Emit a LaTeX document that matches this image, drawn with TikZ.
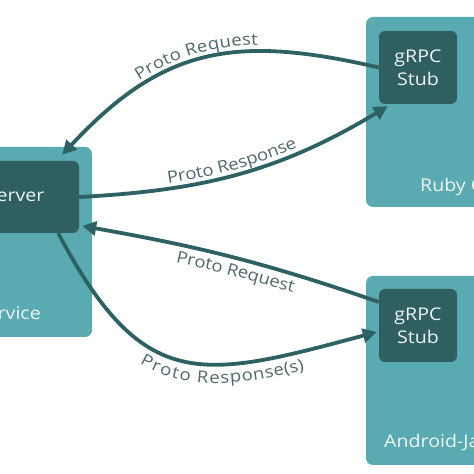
\documentclass[tikz,border=0pt]{standalone}
\usepackage{fontspec}
\setmainfont{Open Sans}[FakeStretch=1.12]
\usetikzlibrary{arrows.meta,decorations.text}
\definecolor{outerteal}{HTML}{5AABB1}
\definecolor{innerteal}{HTML}{2F5F60}
\definecolor{arrowteal}{HTML}{2D6163}
\definecolor{lblgray}{HTML}{4F696B}
\definecolor{boxtext}{HTML}{EEF6F6}
\tikzset{
  outerbox/.style={rectangle, rounded corners=7pt, fill=outerteal, draw=none, inner sep=0pt},
  innerbox/.style={rectangle, rounded corners=6pt, fill=innerteal, draw=none, inner sep=0pt,
    text=boxtext, align=center, font=\fontsize{17.5}{23}\selectfont},
  boxlabel/.style={inner sep=0pt, text=boxtext, font=\fontsize{17.5}{21}\selectfont},
  conn/.style={draw=arrowteal, line width=3.8pt},
  tipa/.style={arrows={-{Triangle[length=14pt,width=14pt]}}},
  tipb/.style={arrows={{Triangle[length=14pt,width=14pt]}-}},
}
\newcommand{\lblfmt}{\color{lblgray}\fontsize{16.5}{16.5}\selectfont}
\begin{document}
\begin{tikzpicture}[x=1pt,y=1pt]
\useasboundingbox (0,0) rectangle (474,474);
\clip (0,0) rectangle (474,474);
\fill[white] (0,0) rectangle (474,474);
% boxes
\node[outerbox, minimum width=202pt, minimum height=190pt] (service) at (-9,232) {};
\node[innerbox, minimum width=180pt, minimum height=72pt] (server) at (-11,277) {gRPC Server};
\node[outerbox, minimum width=200pt, minimum height=190pt] (ruby) at (466,362) {};
\node[innerbox, minimum width=78pt, minimum height=73pt] (rubystub) at (418,406.5) {gRPC\\Stub};
\node[outerbox, minimum width=200pt, minimum height=189pt] (android) at (466,103.5) {};
\node[innerbox, minimum width=78pt, minimum height=73pt] (androidstub) at (418,148.5) {gRPC\\Stub};
\node[boxlabel, anchor=base east] (servicelbl) at (41,154) {C++ Service};
\node[boxlabel, anchor=base west] (rubylbl) at (420,282) {Ruby Client};
\node[boxlabel, anchor=base west] (androidlbl) at (384,27) {Android-Java Client};
% connectors
\draw[conn, tipb, postaction={decorate, decoration={text along path,
    text={|\lblfmt|Proto Request}, raise=6pt, text align={left indent=106pt}}}]
  ([xshift=-17pt,yshift=6pt]server.north east) to[out=47, in=167, looseness=1.15] (rubystub.west);
\draw[conn, tipa, postaction={decorate, decoration={text along path,
    text={|\lblfmt|Proto Response}, raise=5pt, text align={left indent=90pt}}}]
  (server.east) to[out=3, in=211] ([xshift=9pt,yshift=-2pt]rubystub.south west);
\draw[conn, tipb, postaction={decorate, decoration={text along path,
    text={|\lblfmt|Proto Request}, raise=-18pt, text align={left indent=99pt}}}]
  ([xshift=3pt,yshift=-29pt]server.east) to[out=-10, in=161] ([yshift=23.5pt]androidstub.west);
\draw[conn, tipa, postaction={decorate, decoration={text along path,
    text={|\lblfmt|Proto Response(s)}, raise=-19pt, text align={left indent=147pt}}}]
  ([xshift=-21pt]server.south east) to[out=-62, in=195, looseness=1.4] ([xshift=-2pt,yshift=-6.5pt]androidstub.west);
\end{tikzpicture}
\end{document}
